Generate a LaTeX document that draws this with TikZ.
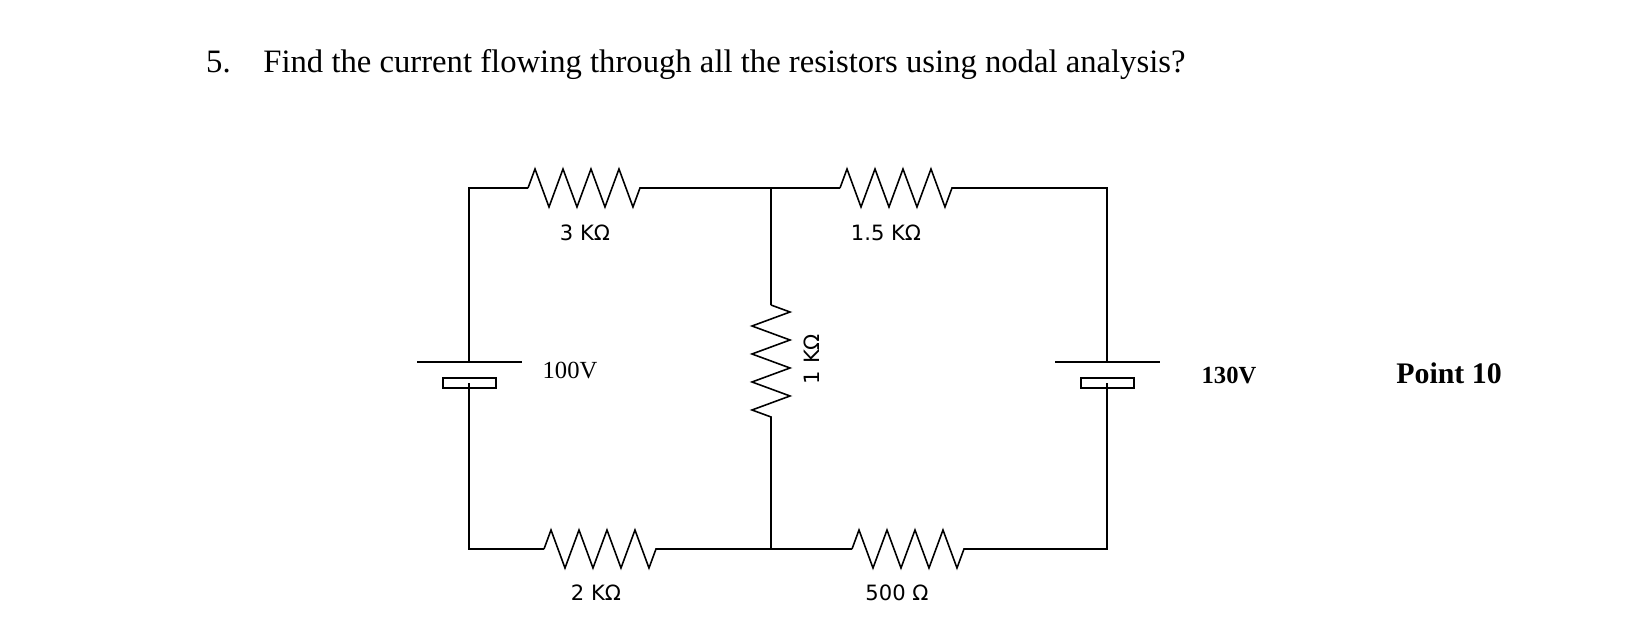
\documentclass[tikz,border=0pt]{standalone}
\usepackage{fontspec}
\setmainfont{Liberation Serif}
\newfontfamily\labelfont{DejaVu Sans}
\usetikzlibrary{positioning,decorations.pathmorphing}
\tikzset{
  Wire/.style={draw=black, line width=0.9pt},
  Resistor/.style={Wire, decorate, decoration={zigzag, segment length=0.56cm, amplitude=0.38cm}},
  ValueLabel/.style={font=\labelfont\fontsize{12}{14}\selectfont},
  VoltLabel/.style={font=\fontsize{14}{16}\selectfont}
}
\begin{document}
\begin{tikzpicture}[x=0.02cm, y=-0.02cm]
    \useasboundingbox (0,0) rectangle (1640,629);

    \node (title) [anchor=west, font=\fontsize{18.6}{22}\selectfont] at (200,65) {5.\quad Find the current flowing through all the resistors using nodal analysis?};

    % corners and junctions
    \coordinate (tl) at (469,188);
    \coordinate (tm) at (771,188);
    \coordinate (tr) at (1107,188);
    \coordinate (bl) at (469,549);
    \coordinate (bm) at (771,549);
    \coordinate (br) at (1107,549);

    % resistor ends
    \coordinate (r1a) at (528,188);  \coordinate (r1b) at (640,188);
    \coordinate (r2a) at (840,188);  \coordinate (r2b) at (952,188);
    \coordinate (r3a) at (544,549);  \coordinate (r3b) at (656,549);
    \coordinate (r4a) at (852,549);  \coordinate (r4b) at (964,549);
    \coordinate (r5a) at (771,305);  \coordinate (r5b) at (771,417);

    % battery plates
    \coordinate (b1p) at (469,362);  \coordinate (b1n) at (469,383);
    \coordinate (b2p) at (1107,362); \coordinate (b2n) at (1107,383);

    \draw [Wire] (b1p) -- (tl) -- (r1a);
    \draw [Resistor] (r1a) -- (r1b);
    \draw [Wire] (r1b) -- (tm) -- (r2a);
    \draw [Resistor] (r2a) -- (r2b);
    \draw [Wire] (r2b) -- (tr) -- (b2p);

    \draw [Wire] (b1n) -- (bl) -- (r3a);
    \draw [Resistor] (r3a) -- (r3b);
    \draw [Wire] (r3b) -- (bm) -- (r4a);
    \draw [Resistor] (r4a) -- (r4b);
    \draw [Wire] (r4b) -- (br) -- (b2n);

    \draw [Wire] (tm) -- (r5a);
    \draw [Resistor] (r5a) -- (r5b);
    \draw [Wire] (r5b) -- (bm);

    % batteries
    \draw [Wire] ([shift={(-52,0)}]b1p) -- ([shift={(53,0)}]b1p);
    \draw [Wire] ([shift={(-26,-5)}]b1n) rectangle ([shift={(27,5)}]b1n);
    \draw [Wire] ([shift={(-52,0)}]b2p) -- ([shift={(53,0)}]b2p);
    \draw [Wire] ([shift={(-26,-5)}]b2n) rectangle ([shift={(27,5)}]b2n);

    \node (l1) [ValueLabel] at (585,233) {3 KΩ};
    \node (l2) [ValueLabel] at (886,233) {1.5 KΩ};
    \node (l3) [ValueLabel] at (596,593) {2 KΩ};
    \node (l4) [ValueLabel] at (897,593) {500 Ω};
    \node (l5) [ValueLabel, rotate=90] at (812,359) {1 KΩ};

    \node (v1) [VoltLabel] at (570,371) {100V};
    \node (v2) [VoltLabel, font=\bfseries\fontsize{14}{16}\selectfont] at (1229,376) {130V};
    \node (pts) [font=\bfseries\fontsize{17}{20}\selectfont] at (1449,373) {Point 10};
\end{tikzpicture}
\end{document}
